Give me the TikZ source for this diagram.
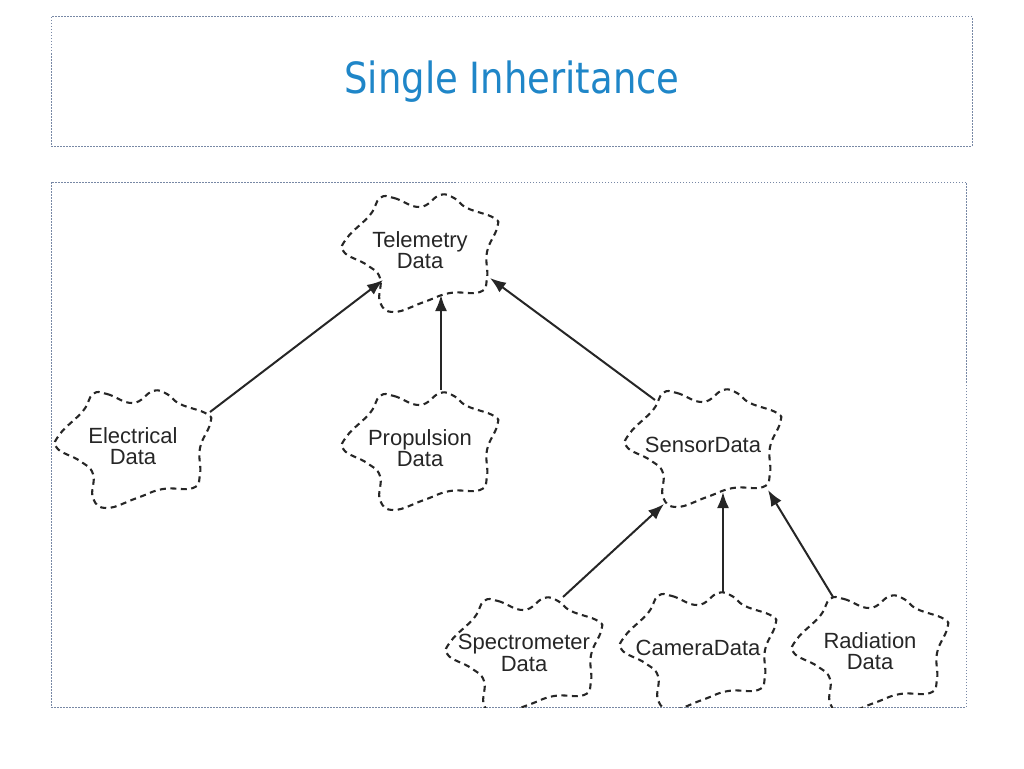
\documentclass[tikz,border=0pt]{standalone}
\usepackage{fontspec}
\setmainfont{Liberation Sans}
\newfontfamily\titlefont[FakeStretch=0.86]{DejaVu Sans}
\usetikzlibrary{arrows.meta,calc}

\definecolor{titleblue}{RGB}{31,134,200}
\definecolor{framegray}{RGB}{120,136,165}

\tikzstyle{frame}=[draw=framegray,line width=1pt,dash pattern=on 1.5pt off 1.5pt]
\tikzstyle{classname}=[align=center,inner sep=0pt,font=\fontsize{22}{21.5}\selectfont,text=black!85]
\tikzstyle{cloudline}=[draw=black!85,line width=2.1pt,dash pattern=on 6pt off 4.5pt]
\tikzstyle{inherit}=[draw=black!85,line width=2pt,-{Latex[length=16pt,width=12pt]}]
\newcommand{\cloudat}[1]{%
  \draw[cloudline,shift={(#1)}] plot[smooth cycle,tension=0.75] coordinates
    {(-40,-52) (-26,-52) (0,-43) (20,-55) (34,-52) (47,-42) (74,-32) (77,-22)
     (67,2) (67,28) (60,42) (30,43) (4,52) (-26,62) (-40,52) (-40,28)
     (-53,15) (-76,2) (-73,-12) (-50,-35)};}

\begin{document}
\begin{tikzpicture}[x=1pt,y=-1pt]
    \useasboundingbox (0,0) rectangle (1024,768);
    % Title box and picture box
    \draw[frame] (51,17) rectangle (972,146);
    \node[font=\titlefont\fontsize{43}{50}\selectfont,text=titleblue] (title) at (512,82) {Single Inheritance};
    \draw[frame] (51,182) rectangle (966,707);
    % First we draw the classes
    \foreach \pos/\name/\txt in {{(420,250)/telemetry/{Telemetry\\Data}},
        {(133,446)/electrical/{Electrical\\Data}}, {(420,448)/propulsion/{Propulsion\\Data}},
        {(703,445)/sensor/{SensorData}}, {(524,653)/spectro/{Spectrometer\\Data}},
        {(698,648)/camera/{CameraData}}, {(870,651)/radiation/{Radiation\\Data}}}
        \node[classname] (\name) at \pos {\txt};
    % Then the clouds round them, cut off by the picture box
    \begin{scope}
        \clip (51,182) rectangle (966,707);
        \foreach \name in {telemetry,electrical,propulsion,sensor,spectro,camera,radiation}
            {\cloudat{\name}}
    \end{scope}
    % Connect subclasses to their superclass
    \foreach \src/\srcx/\srcy/\dst/\dstx/\dsty in {electrical/77/-34/telemetry/-37/30,
        propulsion/21/-58/telemetry/21/45, sensor/-48/-45/telemetry/70/28,
        spectro/39/-56/sensor/-39/59, camera/25/-56/sensor/20/47,
        radiation/-37/-54/sensor/65/45}
        \path[inherit] ($(\src.center)+(\srcx,\srcy)$) -- ($(\dst.center)+(\dstx,\dsty)$);
\end{tikzpicture}
\end{document}
